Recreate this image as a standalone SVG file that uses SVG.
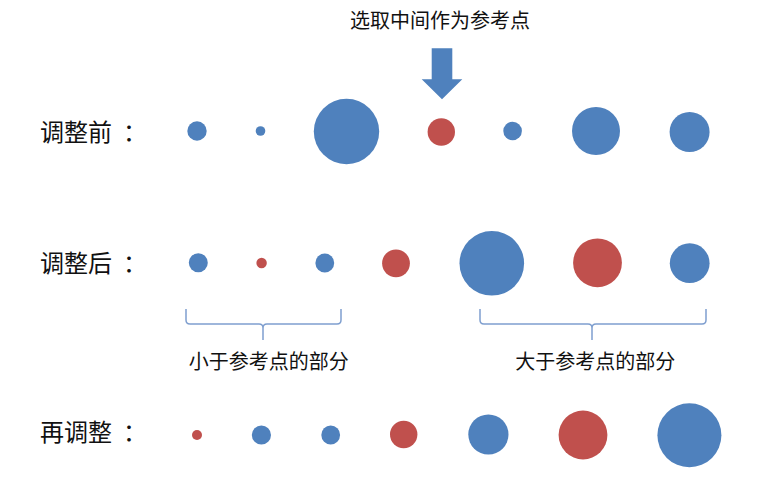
<svg xmlns="http://www.w3.org/2000/svg" width="777" height="481" viewBox="0 0 777 481">
<style>
.b{fill:#4F81BD}
.r{fill:#C0504D}
.lbl{font-family:"Noto Sans CJK SC","Noto Sans CJK JP",sans-serif;font-size:24px;fill:#111}
.cap{font-family:"Noto Sans CJK SC","Noto Sans CJK JP",sans-serif;font-size:20px;fill:#111}
.brace{fill:none;stroke:#7F9FCF;stroke-width:1.5}
</style>
<rect width="777" height="481" fill="#fff"/>
<g id="title">
<text class="cap" x="440" y="27.5" text-anchor="middle">选取中间作为参考点</text>
</g>
<g id="connectors">
<path class="b" d="M431.7,48.3 H452.3 V79.3 H462.3 L442,99.3 L421.7,79.3 H431.7 Z"/>
<path class="brace" d="M186,309 V320 Q186,324 190,324 H259 Q263,324 263,328 V340 M263,328 Q263,324 267,324 H337 Q341,324 341,320 V309"/>
<path class="brace" d="M480,309 V320 Q480,324 484,324 H588 Q592,324 592,328 V340 M592,328 Q592,324 596,324 H702 Q706,324 706,320 V309"/>
</g>
<g id="row1">
<text class="lbl" x="40" y="141">调整前<tspan x="123">：</tspan></text>
<circle class="b" cx="197" cy="131" r="9.7"/>
<circle class="b" cx="260.5" cy="131" r="4.8"/>
<circle class="b" cx="346.5" cy="131.5" r="32.7"/>
<circle class="r" cx="441.3" cy="132" r="13.7"/>
<circle class="b" cx="512.6" cy="131" r="9.3"/>
<circle class="b" cx="596" cy="131" r="24"/>
<circle class="b" cx="689.6" cy="132" r="20"/>
</g>
<g id="row2">
<text class="lbl" x="40" y="272">调整后<tspan x="123">：</tspan></text>
<circle class="b" cx="198.3" cy="262.7" r="9.5"/>
<circle class="r" cx="261.6" cy="263" r="5.2"/>
<circle class="b" cx="324.8" cy="263" r="9.4"/>
<circle class="r" cx="396" cy="263.3" r="13.9"/>
<circle class="b" cx="491.8" cy="263.3" r="32.3"/>
<circle class="r" cx="597.5" cy="262.8" r="24.4"/>
<circle class="b" cx="689.7" cy="263.2" r="19.9"/>
</g>
<g id="labels">
<text class="cap" x="268.8" y="369" text-anchor="middle">小于参考点的部分</text>
<text class="cap" x="595.3" y="369" text-anchor="middle">大于参考点的部分</text>
</g>
<g id="row3">
<text class="lbl" x="40" y="441">再调整<tspan x="123">：</tspan></text>
<circle class="r" cx="197" cy="435" r="5"/>
<circle class="b" cx="261.4" cy="435" r="9.6"/>
<circle class="b" cx="330.7" cy="435" r="9.4"/>
<circle class="r" cx="403.7" cy="434.5" r="13.7"/>
<circle class="b" cx="488.4" cy="434.5" r="20.1"/>
<circle class="r" cx="583" cy="435" r="24.4"/>
<circle class="b" cx="689.4" cy="435.3" r="32"/>
</g>
</svg>
